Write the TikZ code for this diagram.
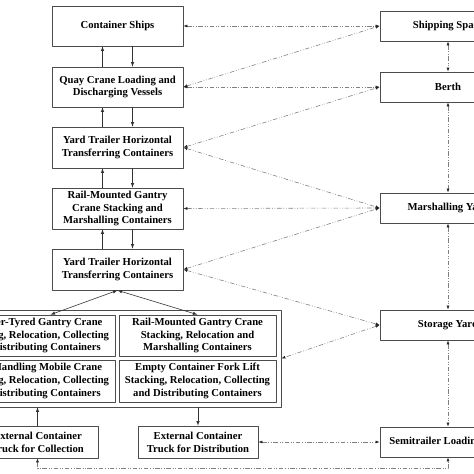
\documentclass[tikz,border=0pt]{standalone}
\usepackage{fontspec}
\setmainfont{Liberation Serif}
\usetikzlibrary{arrows,arrows.meta}
\begin{document}
\begin{tikzpicture}[>=latex,line join=bevel,
  box/.style={draw=black!70,line width=0.7pt,align=center,inner sep=2bp,
    font=\fontsize{10.7}{13}\selectfont\bfseries},
  link/.style={gray,line width=0.6pt,>={Latex[color=black!85,length=4bp,width=3bp]},
    dash pattern=on 4.5pt off 1.8pt on 0.7pt off 1.8pt on 0.7pt off 1.8pt},
  flow/.style={black!80,line width=0.6pt}]
%%
\clip (0bp,0bp) rectangle (474bp,474bp);
\node (ships) at (117.5bp,448bp) [box,minimum width=131bp,minimum height=40bp] {Container Ships};
  \node (quay) at (117.5bp,387bp) [box,minimum width=131bp,minimum height=40bp] {Quay Crane Loading and\\Discharging Vessels};
  \node (yt1) at (117.5bp,326.5bp) [box,minimum width=131bp,minimum height=41bp] {Yard Trailer Horizontal\\Transferring Containers};
  \node (rmg) at (117.5bp,265.5bp) [box,minimum width=131bp,minimum height=41bp] {Rail-Mounted Gantry\\Crane Stacking and\\Marshalling Containers};
  \node (yt2) at (117.5bp,204.5bp) [box,minimum width=131bp,minimum height=41bp] {Yard Trailer Horizontal\\Transferring Containers};
  \node (group) at (117bp,115.5bp) [box,minimum width=328bp,minimum height=97bp] {};
  \node (rtg) at (36.5bp,138.5bp) [box,minimum width=157bp,minimum height=41bp] {Rubber-Tyred Gantry Crane\\Stacking, Relocation, Collecting\\and Distributing Containers};
  \node (rmg2) at (197.5bp,138.5bp) [box,minimum width=157bp,minimum height=41bp] {Rail-Mounted Gantry Crane\\Stacking, Relocation and\\Marshalling Containers};
  \node (mobile) at (36.5bp,93bp) [box,minimum width=157bp,minimum height=42bp] {Port Handling Mobile Crane\\Stacking, Relocation, Collecting\\and Distributing Containers};
  \node (fork) at (197.5bp,93bp) [box,minimum width=157bp,minimum height=42bp] {Empty Container Fork Lift\\Stacking, Relocation, Collecting\\and Distributing Containers};
  \node (coll) at (37.5bp,32bp) [box,minimum width=121bp,minimum height=32bp] {External Container\\Truck for Collection};
  \node (dist) at (198bp,32bp) [box,minimum width=120bp,minimum height=32bp] {External Container\\Truck for Distribution};
  \node (space) at (448bp,448bp) [box,minimum width=136bp,minimum height=30bp] {Shipping Space};
  \node (berth) at (448bp,387bp) [box,minimum width=136bp,minimum height=30bp] {Berth};
  \node (marsh) at (448bp,266bp) [box,minimum width=136bp,minimum height=30bp] {Marshalling Yard};
  \node (storage) at (448bp,149bp) [box,minimum width=136bp,minimum height=30bp] {Storage Yard};
  \node (semi) at (448bp,32bp) [box,minimum width=136bp,minimum height=30bp] {Semitrailer Loading Area};
%% operation flow
  \draw [flow,->] ([xshift=-15bp]quay.north) -- ([xshift=-15bp]ships.south);
  \draw [flow,->] ([xshift=15bp]ships.south) -- ([xshift=15bp]quay.north);
  \draw [flow,->] ([xshift=-15bp]yt1.north) -- ([xshift=-15bp]quay.south);
  \draw [flow,->] ([xshift=15bp]quay.south) -- ([xshift=15bp]yt1.north);
  \draw [flow,->] ([xshift=-15bp]rmg.north) -- ([xshift=-15bp]yt1.south);
  \draw [flow,->] ([xshift=15bp]yt1.south) -- ([xshift=15bp]rmg.north);
  \draw [flow,->] ([xshift=-15bp]yt2.north) -- ([xshift=-15bp]rmg.south);
  \draw [flow,->] ([xshift=15bp]rmg.south) -- ([xshift=15bp]yt2.north);
  \draw [flow,<->] (yt2.south) -- ([xshift=14bp]rtg.north);
  \draw [flow,<->] (yt2.south) -- (rmg2.north);
  \draw [flow,->] (coll.north) -- (coll |- group.south);
  \draw [flow,->] (group.south -| dist) -- (dist.north);
%% resources
  \draw [link,<->] (ships.east) -- (space.west);
  \draw [link,<->] (quay.east) -- (space.west);
  \draw [link,<->] (quay.east) -- (berth.west);
  \draw [link,<->] (yt1.east) -- (berth.west);
  \draw [link,<->] (yt1.east) -- (marsh.west);
  \draw [link,<->] (rmg.east) -- (marsh.west);
  \draw [link,<->] (yt2.east) -- (marsh.west);
  \draw [link,<->] (yt2.east) -- (storage.west);
  \draw [link,<->] (storage.west) -- (group.east);
  \draw [link,<->] (dist.east) -- (semi.west);
  \draw [link,<->] (space.south) -- (berth.north);
  \draw [link,<->] (berth.south) -- (marsh.north);
  \draw [link,<->] (marsh.south) -- (storage.north);
  \draw [link,<->] (storage.south) -- (semi.north);
  \draw [link,<->] (coll.south) |- ([yshift=-10bp]coll.south -| semi) -- (semi.south);
%
\end{tikzpicture}
\end{document}
